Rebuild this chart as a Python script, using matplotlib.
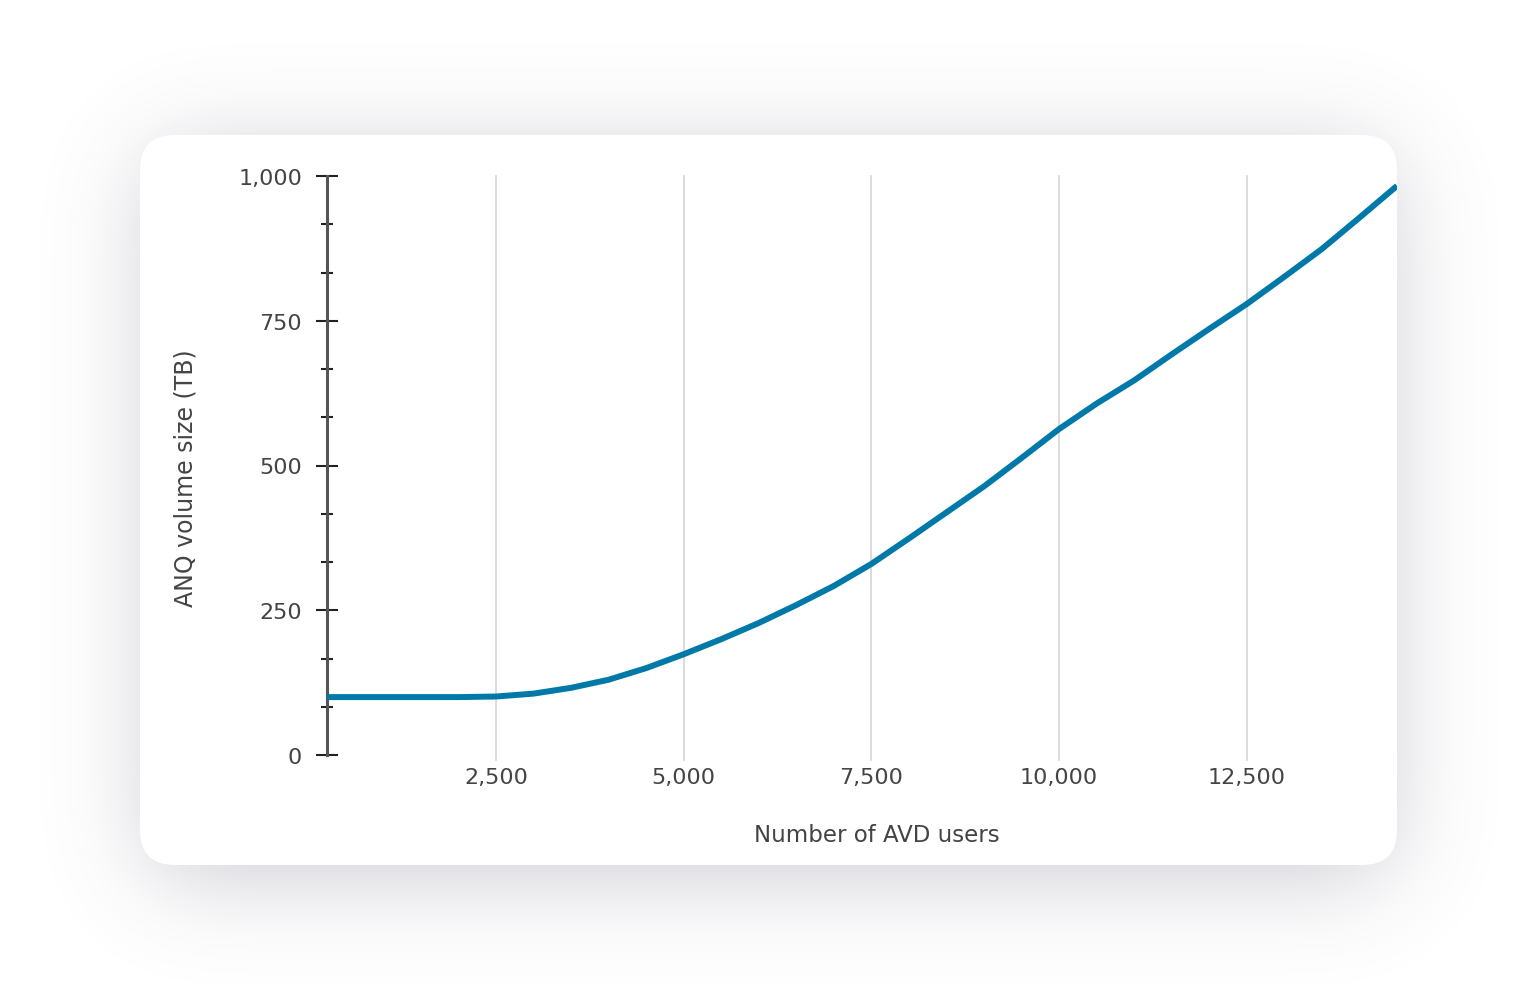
import numpy as np
import matplotlib
matplotlib.use("Agg")
import matplotlib.pyplot as plt
from matplotlib.patches import FancyBboxPatch
from matplotlib.ticker import FuncFormatter, MultipleLocator

# values
users = [250, 2000, 2500, 3000, 3500, 4000, 4500, 5000, 5500, 6000, 6500, 7000,
         7500, 8000, 8500, 9000, 9500, 10000, 10500, 11000, 11500, 12000,
         12500, 13000, 13500, 14000, 14500]
volume_tb = [100, 100, 101, 106, 116, 130, 150, 174, 200, 228, 259, 292,
             330, 374, 419, 464, 513, 563, 607, 647, 692, 736,
             779, 826, 874, 928, 983]
x_ticks = [2500, 5000, 7500, 10000, 12500]
y_ticks = [0, 250, 500, 750, 1000]

W, H = 1536, 1003
fig = plt.figure(figsize=(W / 100, H / 100), dpi=100)
fig.patch.set_facecolor("white")

bg = fig.add_axes([0, 0, 1, 1])
bg.set_xlim(0, W)
bg.set_ylim(H, 0)
bg.axis("off")
cx0, cy0, cx1, cy1 = 140, 136, 1397, 866
rad = 35

# soft drop shadow: blurred rounded-rect mask on a coarse grid
step = 4
gx, gy = np.meshgrid(np.arange(0, W, step) + step / 2, np.arange(0, H, step) + step / 2)
ccx, ccy = (cx0 + cx1) / 2, (cy0 + cy1) / 2 + 16
hx, hy = (cx1 - cx0) / 2 - 6, (cy1 - cy0) / 2
qx = np.abs(gx - ccx) - (hx - rad)
qy = np.abs(gy - ccy) - (hy - rad)
dist = np.hypot(np.maximum(qx, 0), np.maximum(qy, 0)) + np.minimum(np.maximum(qx, qy), 0) - rad
mask = (dist < 0).astype(float)
sig = 48 / step
k = np.arange(-int(3 * sig), int(3 * sig) + 1)
kern = np.exp(-0.5 * (k / sig) ** 2)
kern /= kern.sum()
blur = np.apply_along_axis(lambda r: np.convolve(r, kern, mode="same"), 1, mask)
blur = np.apply_along_axis(lambda c: np.convolve(c, kern, mode="same"), 0, blur)
rgba = np.zeros(blur.shape + (4,))
rgba[..., 0] = 0.47
rgba[..., 1] = 0.47
rgba[..., 2] = 0.55
rgba[..., 3] = 0.36 * blur
bg.imshow(rgba, extent=(0, W, H, 0), interpolation="bilinear", zorder=0)
bg.set_xlim(0, W)
bg.set_ylim(H, 0)

card = FancyBboxPatch((cx0, cy0), cx1 - cx0, cy1 - cy0,
                      boxstyle="round,pad=0,rounding_size=%d" % rad,
                      fc="white", ec="none", zorder=1)
bg.add_patch(card)

# chart
ax = fig.add_axes([327 / W, 1 - 756 / H, (1397 - 327) / W, (756 - 177) / H])
ax.patch.set_alpha(0)
ax.plot(users, volume_tb, color="#0079a9", lw=4.3, solid_capstyle="butt",
        solid_joinstyle="round", zorder=3)
ax.set_xlim(250, 14500)
ax.set_ylim(0, 1000)

for xt in x_ticks:
    ax.plot([xt, xt], [-8, 1000], color="#d4d4d4", lw=1.2, zorder=1, clip_on=False)

for s in ["top", "right", "bottom"]:
    ax.spines[s].set_visible(False)
ax.spines["left"].set_color("#555555")
ax.spines["left"].set_linewidth(2.2)

ax.set_xticks(x_ticks)
ax.set_yticks(y_ticks)
ax.yaxis.set_minor_locator(MultipleLocator(250 / 3))
fmt = FuncFormatter(lambda v, p: f"{int(v):,}")
ax.xaxis.set_major_formatter(fmt)
ax.yaxis.set_major_formatter(fmt)
ax.tick_params(axis="x", length=0, pad=9, labelsize=16, labelcolor="#444444")
ax.tick_params(axis="y", which="major", direction="inout", length=16, width=1.5,
               color="#222222", pad=10, labelsize=16, labelcolor="#444444")
ax.tick_params(axis="y", which="minor", direction="inout", length=8, width=1.5,
               color="#222222")

ax.set_xlabel("Number of AVD users", fontsize=16.5, color="#444444")
ax.xaxis.set_label_coords((877 - 327) / (1397 - 327), -(835 - 756) / (756 - 177))
ax.xaxis.label.set_va("center")
ax.set_ylabel("ANQ volume size (TB)", fontsize=17, color="#444444")
ax.yaxis.set_label_coords(-(327 - 185) / (1397 - 327), (756 - 478) / (756 - 177))
ax.yaxis.label.set_va("center")

fig.savefig("out.png", dpi=100, facecolor="white")
